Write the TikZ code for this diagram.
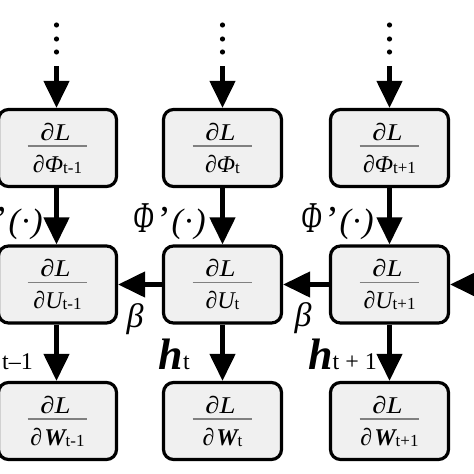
\documentclass[tikz,border=0pt]{standalone}
\usepackage{fontspec}
\setmainfont{Liberation Serif}
\usepackage{graphicx}
\usetikzlibrary{arrows.meta,calc}
\newcommand\fbx[4]{%
  \node[gbox] (#1) at (#2,#3) {};
  \node[numtxt] (#1n) at ($(#1.center)+(-2,-8)$) {\scalebox{1.2}[1]{\itshape ∂L}};
  \draw[fracline] ($(#1.center)+(-30,-2)$) -- ($(#1.center)+(29,-2)$);
  \node[dentxt] (#1d) at ($(#1.center)+(0,24)$) {#4};
}
\newcommand\subt[1]{\raisebox{-1pt}{\fontsize{17}{17}\selectfont #1}}
\newcommand\phip{{\fontsize{44}{44}\selectfont\itshape\scalebox{0.62}[1]{Φ}}\hspace{4pt}{\fontsize{38}{38}\selectfont ’}\hspace{1pt}{\fontsize{34}{34}\selectfont\itshape(\hspace{1.5pt}·\hspace{1.5pt})}}
\newcommand\hlab[1]{{\fontsize{44}{44}\selectfont\bfseries\itshape h}{\fontsize{24}{24}\selectfont #1}}
\begin{document}
\begin{tikzpicture}[x=1pt,y=-1pt,
  gbox/.style={draw=black, line width=3.2pt, fill=black!6, rounded corners=10pt,
    minimum width=118pt, minimum height=77pt, inner sep=0pt},
  numtxt/.style={anchor=base, inner sep=0pt, font=\fontsize{24}{24}\selectfont},
  dentxt/.style={anchor=base, inner sep=0pt, font=\fontsize{24}{24}\selectfont},
  fracline/.style={draw=black!50, line width=1.4pt},
  arr/.style={line width=4.5pt, -{Triangle[width=25pt,length=27pt]}},
  lab/.style={anchor=base east, inner sep=0pt},
  blab/.style={inner sep=0pt, font=\fontsize{34}{34}\selectfont\itshape},
]
\useasboundingbox (0,0) rectangle (474,474);
\clip (0,0) rectangle (474,474);

% boxes
\fbx{pA}{57.5}{148}{{\itshape ∂Φ}\subt{t-1}}
\fbx{pB}{222.5}{148}{{\itshape ∂Φ}\subt{t}}
\fbx{pC}{389.5}{148}{{\itshape ∂Φ}\subt{t+1}}
\fbx{uA}{57.5}{284.5}{{\itshape ∂U}\subt{t-1}}
\fbx{uB}{222.5}{284.5}{{\itshape ∂U}\subt{t}}
\fbx{uC}{389.5}{284.5}{{\itshape ∂U}\subt{t+1}}
\fbx{wA}{57.5}{421}{{\itshape ∂\hspace{2pt}\bfseries W}\subt{t-1}}
\fbx{wB}{222.5}{421}{{\itshape ∂\hspace{2pt}\bfseries W}\subt{t}}
\fbx{wC}{389.5}{421}{{\itshape ∂\hspace{2pt}\bfseries W}\subt{t+1}}

% dots
\foreach \cx in {56.5,222.5,389.5}{
  \foreach \cy in {25,39,52}{\fill (\cx,\cy) circle (2.6pt);}
}
\coordinate (tA) at (56.5,66);
\coordinate (tB) at (222.5,66);
\coordinate (tC) at (389.5,66);
\coordinate (rin) at (520,284.5);

% connectors
\draw[arr] (tA) -- (tA |- pA.north);
\draw[arr] (tB) -- (pB);
\draw[arr] (tC) -- (pC);
\draw[arr] (pA.south -| tA) -- (uA.north -| tA);
\draw[arr] (pB) -- (uB);
\draw[arr] (pC) -- (uC);
\draw[arr] (uA.south -| tA) -- (wA.north -| tA);
\draw[arr] (uB) -- (wB);
\draw[arr] (uC) -- (wC);
\draw[arr] (uB) -- (uA);
\draw[arr] (uC) -- (uB);
\draw[arr] (rin) -- (uC);

% labels
\node[lab] (phA) at (43,232) {\phip};
\node[lab] (phB) at (206,232) {\phip};
\node[lab] (phC) at (374,232) {\phip};
\node[blab] (bB) at (135,319) {β};
\node[blab] (bC) at (303,318) {β};
\node[lab] (hA) at (33,369) {\hlab{t–1}};
\node[lab] (hB) at (190,369) {\hlab{t}};
\node[lab] (hC) at (377,369) {\hlab{t + 1}};
\end{tikzpicture}
\end{document}
